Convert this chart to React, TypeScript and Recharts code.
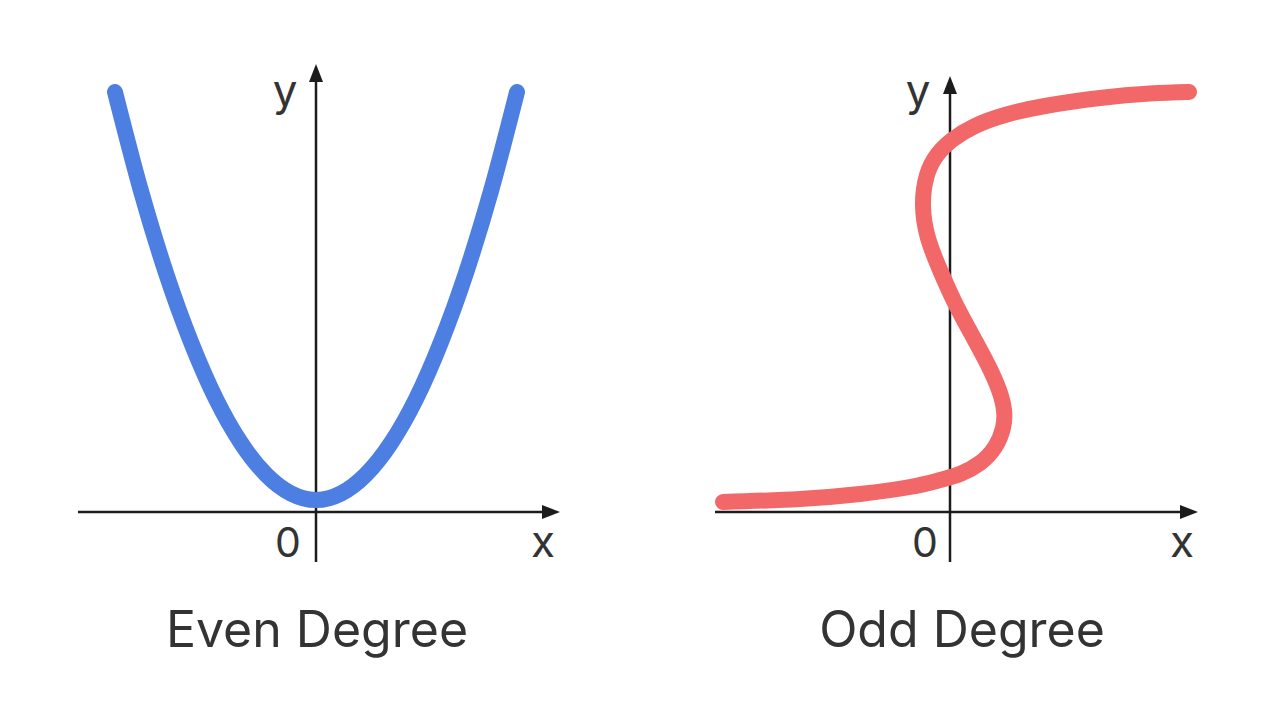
import React from "react";
import { LineChart, Line, XAxis, YAxis, ReferenceLine, ReferenceDot } from "recharts";

// even degree curve (parabola-like)
const evenX = [-4.02, -3.5, -3, -2.5, -2, -1.5, -1, -0.5, 0, 0.5, 1, 1.5, 2, 2.5, 3, 3.5, 4.02];
const evenY = [8.4, 6.42, 4.78, 3.4, 2.26, 1.38, 0.75, 0.37, 0.24, 0.37, 0.75, 1.38, 2.26, 3.4, 4.78, 6.42, 8.4];

// odd degree curve, traced in drawing order (it doubles back on itself)
const oddX = [-4.54, -3.0, -1.8, -0.8, -0.2, 0.2, 0.6, 0.9, 1.06, 1.08, 0.98, 0.76, 0.44, 0.1, -0.2, -0.44, -0.54, -0.46, -0.26, 0.04, 0.5, 1.1, 1.9, 3.0, 4.0, 4.78];
const oddY = [0.2, 0.26, 0.36, 0.5, 0.64, 0.76, 0.98, 1.3, 1.68, 2.04, 2.44, 2.94, 3.54, 4.18, 4.84, 5.48, 6.14, 6.74, 7.14, 7.44, 7.72, 7.94, 8.12, 8.28, 8.37, 8.4];

const titles = ["Even Degree", "Odd Degree"];
const axisLabels = { x: "x", y: "y", origin: "0" };

const evenData = evenX.map((x, i) => ({ x, y: evenY[i] }));
const oddData = oddX.map((x, i) => ({ x, y: oddY[i] }));

const AXIS = "#1c1c1c";
const TEXT = "#333333";
const FONT = "Inter, 'Noto Sans', sans-serif";

const Arrow = (props: any) => {
  const { x1, y1, x2, y2 } = props;
  const dx = x2 - x1;
  const dy = y2 - y1;
  const len = Math.sqrt(dx * dx + dy * dy) || 1;
  const ux = dx / len;
  const uy = dy / len;
  const head = 18;
  const half = 7;
  const bx = x2 - ux * head;
  const by = y2 - uy * head;
  return (
    <g>
      <line x1={x1} y1={y1} x2={bx + ux * 2} y2={by + uy * 2} stroke={AXIS} strokeWidth={2.5} />
      <polygon
        points={`${x2},${y2} ${bx - uy * half},${by + ux * half} ${bx + uy * half},${by - ux * half}`}
        fill={AXIS}
      />
    </g>
  );
};

const textShape = (value: string, size: number) => (props: any) => (
  <text
    x={props.cx}
    y={props.cy}
    textAnchor="middle"
    fontFamily={FONT}
    fontSize={size}
    fill={TEXT}
  >
    {value}
  </text>
);

interface PanelProps {
  data: { x: number; y: number }[];
  color: string;
  curve: any;
  xDomain: [number, number];
  xAxisEnds: [number, number];
  yTop: number;
  title: string;
  labelX: { y: number; o: number; x: number; t: number };
}

function Panel({ data, color, curve, xDomain, xAxisEnds, yTop, title, labelX }: PanelProps) {
  return (
    <LineChart width={640} height={720} data={data} margin={{ top: 0, right: 0, bottom: 0, left: 0 }}>
      <XAxis type="number" dataKey="x" domain={xDomain} hide allowDataOverflow />
      <YAxis type="number" dataKey="y" domain={[-4.16, 10.24]} hide allowDataOverflow />
      <ReferenceLine
        segment={[{ x: xAxisEnds[0], y: 0 }, { x: xAxisEnds[1], y: 0 }]}
        shape={Arrow}
      />
      <ReferenceLine
        segment={[{ x: 0, y: -1.0 }, { x: 0, y: yTop }]}
        shape={Arrow}
      />
      <Line
        type={curve}
        dataKey="y"
        stroke={color}
        strokeWidth={16}
        strokeLinecap="round"
        strokeLinejoin="round"
        dot={false}
        activeDot={false}
        isAnimationActive={false}
      />
      <ReferenceDot x={labelX.y} y={8.12} r={0} shape={textShape(axisLabels.y, 44)} />
      <ReferenceDot x={labelX.o} y={-0.9} r={0} shape={textShape(axisLabels.origin, 41)} />
      <ReferenceDot x={labelX.x} y={-0.9} r={0} shape={textShape(axisLabels.x, 44)} />
      <ReferenceDot x={labelX.t} y={-2.7} r={0} shape={textShape(title, 50)} />
    </LineChart>
  );
}

export default function App() {
  return (
    <div
      style={{
        position: "absolute",
        top: 0,
        left: 0,
        width: 1280,
        height: 720,
        background: "#ffffff",
        display: "flex",
      }}
    >
      <Panel
        data={evenData}
        color="#4d7fe2"
        curve="monotone"
        xDomain={[-6.32, 6.48]}
        xAxisEnds={[-4.76, 4.88]}
        yTop={8.96}
        title={titles[0]}
        labelX={{ y: -0.62, o: -0.56, x: 4.54, t: 0.02 }}
      />
      <Panel
        data={oddData}
        color="#f26767"
        curve="natural"
        xDomain={[-6.2, 6.6]}
        xAxisEnds={[-4.7, 4.96]}
        yTop={8.72}
        title={titles[1]}
        labelX={{ y: -0.64, o: -0.5, x: 4.64, t: 0.24 }}
      />
    </div>
  );
}
